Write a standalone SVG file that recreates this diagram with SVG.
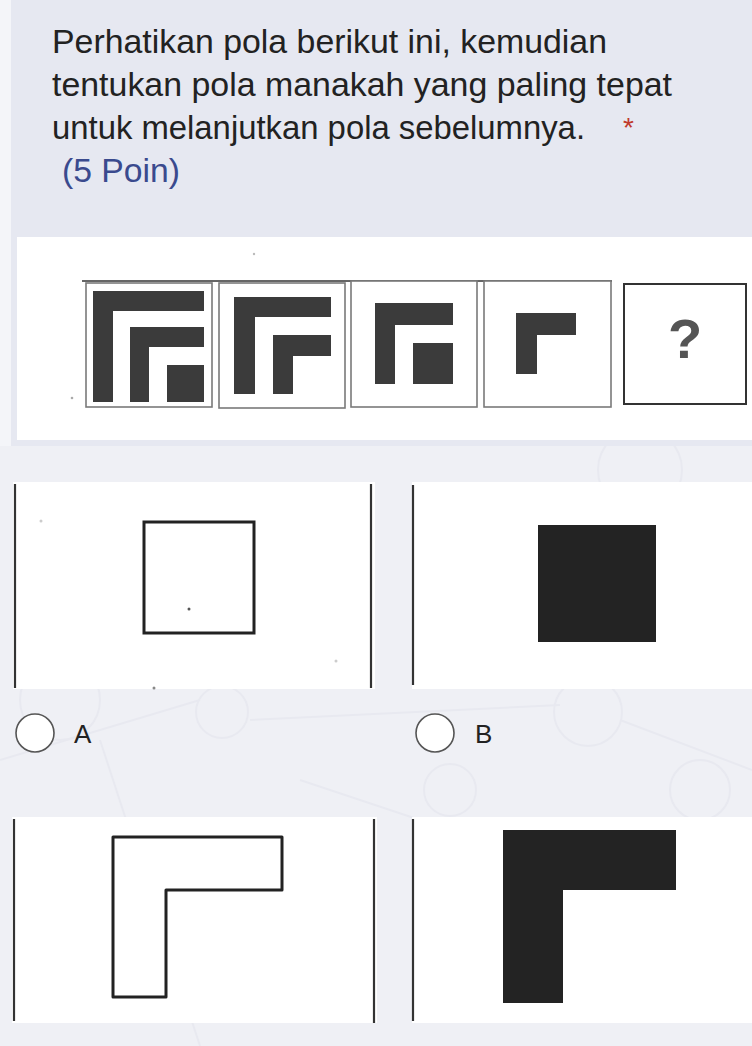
<svg xmlns="http://www.w3.org/2000/svg" width="752" height="1046" viewBox="0 0 752 1046">
<style>
.q{font-family:"Liberation Sans",Arial,sans-serif;font-size:33px;fill:#222}
.pt{font-family:"Liberation Sans",Arial,sans-serif;font-size:33px;fill:#3a4a8e}
.lbl{font-family:"Liberation Sans",Arial,sans-serif;font-size:26px;fill:#222}
.frm{fill:#fff;stroke:#7a7a7a;stroke-width:1.6}
.dk{fill:#3b3b3b}
.wh{fill:#fff}
.radio{fill:#fff;stroke:#555;stroke-width:1.6}
.card{fill:#fff}
.edge{stroke:#333;stroke-width:2.2;fill:none}
.wm{fill:none;stroke:#e8e9f0;stroke-width:2}
</style>
<rect x="0" y="0" width="752" height="1046" fill="#eff0f5"/>
<g id="watermark">
<circle class="wm" cx="640" cy="470" r="42"/>
<circle class="wm" cx="588" cy="712" r="34"/>
<circle class="wm" cx="222" cy="712" r="26"/>
<circle class="wm" cx="60" cy="700" r="40"/>
<circle class="wm" cx="450" cy="790" r="26"/>
<circle class="wm" cx="700" cy="790" r="30"/>
<line class="wm" x1="0" y1="760" x2="200" y2="700"/>
<line class="wm" x1="250" y1="720" x2="560" y2="705"/>
<line class="wm" x1="620" y1="720" x2="752" y2="770"/>
<line class="wm" x1="100" y1="740" x2="200" y2="1046"/>
<line class="wm" x1="300" y1="780" x2="420" y2="820"/>
<line class="wm" x1="680" y1="820" x2="752" y2="1000"/>
</g>
<g id="header">
<rect x="0" y="0" width="11" height="446" fill="#f4f5f9"/>
<rect x="11" y="0" width="741" height="446" fill="#e6e8f1"/>
<text class="q" x="52" y="53" textLength="555" lengthAdjust="spacingAndGlyphs">Perhatikan pola berikut ini, kemudian</text>
<text class="q" x="52" y="96" textLength="620" lengthAdjust="spacingAndGlyphs">tentukan pola manakah yang paling tepat</text>
<text class="q" x="52" y="139" textLength="533" lengthAdjust="spacingAndGlyphs">untuk melanjutkan pola sebelumnya.</text>
<text x="623" y="137" font-family="Liberation Sans,Arial,sans-serif" font-size="28" fill="#c0392b">*</text>
<text class="pt" x="62" y="182" textLength="118" lengthAdjust="spacingAndGlyphs">(5 Poin)</text>
</g>
<g id="pattern">
<rect x="17" y="237" width="735" height="203" fill="#fff"/>
<line x1="82" y1="281" x2="612" y2="281" stroke="#666" stroke-width="2"/>
<circle cx="72" cy="398" r="1.3" fill="#aaa"/>
<circle cx="254" cy="254" r="1.2" fill="#bbb"/>
<g id="frame1">
<rect class="frm" x="86" y="283" width="126" height="124"/>
<rect class="dk" x="93" y="291" width="111" height="111"/>
<rect class="wh" x="113" y="311" width="91" height="91"/>
<rect class="dk" x="130" y="327" width="74" height="75"/>
<rect class="wh" x="149" y="347" width="55" height="55"/>
<rect class="dk" x="167" y="365" width="37" height="37"/>
</g>
<g id="frame2">
<rect class="frm" x="219" y="283" width="126" height="125"/>
<rect class="dk" x="234" y="297" width="97" height="97"/>
<rect class="wh" x="255" y="317" width="76" height="77"/>
<rect class="dk" x="273" y="335" width="58" height="59"/>
<rect class="wh" x="293" y="356" width="38" height="38"/>
</g>
<g id="frame3">
<rect class="frm" x="351" y="281" width="126" height="126"/>
<rect class="dk" x="375" y="303" width="78" height="81"/>
<rect class="wh" x="395" y="325" width="58" height="59"/>
<rect class="dk" x="413" y="343" width="40" height="41"/>
</g>
<g id="frame4">
<rect class="frm" x="484" y="281" width="127" height="126"/>
<rect class="dk" x="516" y="313" width="60" height="61"/>
<rect class="wh" x="537" y="335" width="39" height="39"/>
</g>
<g id="frame5">
<rect x="624" y="284" width="122" height="120" fill="#fff" stroke="#333" stroke-width="2"/>
<text x="685" y="358" text-anchor="middle" font-family="Liberation Sans,Arial,sans-serif" font-weight="bold" font-size="56" fill="#555">?</text>
</g>
</g>
<g id="optionA">
<rect class="card" x="13" y="482" width="362" height="207"/>
<line class="edge" x1="15" y1="484" x2="15" y2="688"/>
<line class="edge" x1="371" y1="484" x2="371" y2="688"/>
<rect x="144" y="522" width="110" height="111" fill="none" stroke="#222" stroke-width="3"/>
<circle cx="189" cy="609" r="1.5" fill="#555"/>
<circle cx="41" cy="521" r="1.5" fill="#ccc"/>
<circle cx="336" cy="661" r="1.5" fill="#ccc"/>
<circle cx="154" cy="688" r="1.5" fill="#888"/>
<circle class="radio" cx="35" cy="733" r="19"/>
<text class="lbl" x="74" y="743">A</text>
</g>
<g id="optionB">
<rect class="card" x="412" y="482" width="340" height="207"/>
<line class="edge" x1="413" y1="485" x2="413" y2="685"/>
<rect x="538" y="525" width="118" height="117" fill="#232323"/>
<circle class="radio" cx="435" cy="733" r="19"/>
<text class="lbl" x="475" y="743">B</text>
</g>
<g id="optionC">
<rect class="card" x="12" y="817" width="365" height="206"/>
<line class="edge" x1="14" y1="819" x2="14" y2="1021"/>
<line class="edge" x1="374" y1="819" x2="374" y2="1023"/>
<path d="M113 837 H282 V890 H166 V997 H113 Z" fill="none" stroke="#222" stroke-width="3" stroke-linejoin="round"/>
</g>
<g id="optionD">
<rect class="card" x="412" y="817" width="340" height="206"/>
<line class="edge" x1="413" y1="819" x2="413" y2="1021"/>
<path d="M503 830 H676 V890 H563 V1003 H503 Z" fill="#232323"/>
</g>
<g id="connectors"/>
</svg>
